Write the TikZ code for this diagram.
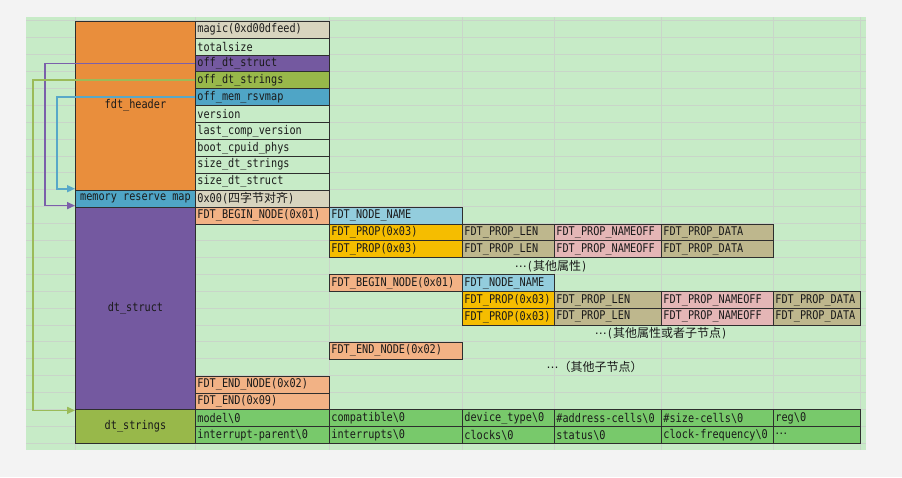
\documentclass[tikz,border=0pt]{standalone}
\usepackage{fontspec}
\setmonofont[FakeStretch=0.85]{DejaVu Sans Mono}
\newfontfamily\cjk{Noto Sans CJK SC}
\newfontfamily\dejavu{DejaVu Sans}
\usetikzlibrary{arrows.meta}
\definecolor{outer}{HTML}{F3F3F3}
\definecolor{bg}{HTML}{C7EBC7}
\definecolor{gridc}{HTML}{C9D5C9}
\definecolor{cellline}{HTML}{2E2E2E}
\definecolor{txt}{HTML}{1A1A1A}
\definecolor{corange}{HTML}{E98E3C}
\definecolor{cpurple}{HTML}{7459A0}
\definecolor{colive}{HTML}{98B84A}
\definecolor{cblue}{HTML}{4FA5C6}
\definecolor{cbeige}{HTML}{D8D4BE}
\definecolor{cpeach}{HTML}{F2B285}
\definecolor{clblue}{HTML}{93CDDD}
\definecolor{cgold}{HTML}{F5BD00}
\definecolor{ctan}{HTML}{BEB78D}
\definecolor{cpink}{HTML}{E4B6B6}
\definecolor{cgreen}{HTML}{78C96B}
\definecolor{lpurple}{HTML}{7B60AA}
\definecolor{lolive}{HTML}{9BBB59}
\definecolor{lblue}{HTML}{58A8C8}
\tikzset{
  cel/.style={draw=cellline, line width=0.9pt, rectangle, anchor=north west,
    minimum height=16.9pt, inner xsep=2pt, inner ysep=0pt, align=left,
    font=\ttfamily\fontsize{12}{14}\selectfont, text=txt},
  blk/.style={draw=cellline, line width=0.9pt, rectangle, anchor=north west,
    inner sep=0pt, align=center, font=\ttfamily\fontsize{12}{14}\selectfont, text=txt},
  note/.style={inner sep=0pt, font=\ttfamily\fontsize{12}{14}\selectfont, text=txt},
  gridl/.style={draw=gridc, line width=0.8pt},
  conn/.style={line width=1.7pt, -{Triangle[length=8pt,width=7pt]}}
}
\newcommand\cel[6]{%
  \pgfmathsetmacro\cw{#3-#2}%
  \pgfmathsetmacro\tw{#3-#2-4}%
  \pgfmathsetmacro\cy{20.7+16.9*#4}%
  \node[cel, fill=#5, minimum width=\cw pt, text width=\tw pt] (#1) at (#2pt,-\cy pt) {#6};%
}
\newcommand\blk[7]{%
  \pgfmathsetmacro\cw{#3-#2}%
  \pgfmathsetmacro\ch{16.9*#5}%
  \pgfmathsetmacro\cy{20.7+16.9*#4}%
  \node[blk, fill=#6, minimum width=\cw pt, minimum height=\ch pt] (#1) at (#2pt,-\cy pt) {#7};%
}
\newcommand\mdots{{\dejavu ⋯}}
\begin{document}
\begin{tikzpicture}
\useasboundingbox (0pt,0pt) rectangle (902pt,-477pt);
\fill[outer] (0pt,0pt) rectangle (902pt,-477pt);
\fill[bg] (26pt,-17pt) rectangle (866pt,-450pt);
\foreach \x in {75,195,329,462,554,661,773,860}
  \draw[gridl] (\x pt,-17pt) -- (\x pt,-450pt);
\foreach \i in {0,...,25}{
  \pgfmathsetmacro\yy{20.7+16.9*\i}
  \draw[gridl] (26pt,-\yy pt) -- (866pt,-\yy pt);
}
% column B blocks
\blk{header}{75}{195}{0}{10}{corange}{fdt\_header}
\blk{rsvmap}{75}{195}{10}{1}{cblue}{memory reserve map}
\blk{dtstruct}{75}{195}{11}{12}{cpurple}{dt\_struct}
\blk{dtstrings}{75}{195}{23}{2}{colive}{dt\_strings}
% column C
\cel{magic}{195}{329}{0}{cbeige}{magic(0xd00dfeed)}
\cel{totalsize}{195}{329}{1}{bg}{totalsize}
\cel{offstruct}{195}{329}{2}{cpurple}{off\_dt\_struct}
\cel{offstrings}{195}{329}{3}{colive}{off\_dt\_strings}
\cel{offmem}{195}{329}{4}{cblue}{off\_mem\_rsvmap}
\cel{version}{195}{329}{5}{bg}{version}
\cel{lastcomp}{195}{329}{6}{bg}{last\_comp\_version}
\cel{bootcpu}{195}{329}{7}{bg}{boot\_cpuid\_phys}
\cel{sizestr}{195}{329}{8}{bg}{size\_dt\_strings}
\cel{sizestruct}{195}{329}{9}{bg}{size\_dt\_struct}
\cel{rsvzero}{195}{329}{10}{cbeige}{0x00({\cjk 四字节对齐})}
\cel{beginA}{195}{329}{11}{cpeach}{FDT\_BEGIN\_NODE(0x01)}
\cel{endB}{195}{329}{21}{cpeach}{FDT\_END\_NODE(0x02)}
\cel{fdtend}{195}{329}{22}{cpeach}{FDT\_END(0x09)}
\cel{sA}{195}{329}{23}{cgreen}{model\textbackslash 0}
\cel{sB}{195}{329}{24}{cgreen}{interrupt-parent\textbackslash 0}
% column D
\cel{nameA}{329}{462}{11}{clblue}{FDT\_NODE\_NAME}
\cel{propAa}{329}{462}{12}{cgold}{FDT\_PROP(0x03)}
\cel{propAb}{329}{462}{13}{cgold}{FDT\_PROP(0x03)}
\cel{beginB}{329}{462}{15}{cpeach}{FDT\_BEGIN\_NODE(0x01)}
\cel{endA}{329}{462}{19}{cpeach}{FDT\_END\_NODE(0x02)}
\cel{sC}{329}{462}{23}{cgreen}{compatible\textbackslash 0}
\cel{sD}{329}{462}{24}{cgreen}{interrupts\textbackslash 0}
% column E
\cel{lenAa}{462}{554}{12}{ctan}{FDT\_PROP\_LEN}
\cel{lenAb}{462}{554}{13}{ctan}{FDT\_PROP\_LEN}
\cel{nameB}{462}{554}{15}{clblue}{FDT\_NODE\_NAME}
\cel{propBa}{462}{554}{16}{cgold}{FDT\_PROP(0x03)}
\cel{propBb}{462}{554}{17}{cgold}{FDT\_PROP(0x03)}
\cel{sE}{462}{554}{23}{cgreen}{device\_type\textbackslash 0}
\cel{sF}{462}{554}{24}{cgreen}{clocks\textbackslash 0}
% column F
\cel{offAa}{554}{661}{12}{cpink}{FDT\_PROP\_NAMEOFF}
\cel{offAb}{554}{661}{13}{cpink}{FDT\_PROP\_NAMEOFF}
\cel{lenBa}{554}{661}{16}{ctan}{FDT\_PROP\_LEN}
\cel{lenBb}{554}{661}{17}{ctan}{FDT\_PROP\_LEN}
\cel{sG}{554}{661}{23}{cgreen}{\#address-cells\textbackslash 0}
\cel{sH}{554}{661}{24}{cgreen}{status\textbackslash 0}
% column G
\cel{dataAa}{661}{773}{12}{ctan}{FDT\_PROP\_DATA}
\cel{dataAb}{661}{773}{13}{ctan}{FDT\_PROP\_DATA}
\cel{offBa}{661}{773}{16}{cpink}{FDT\_PROP\_NAMEOFF}
\cel{offBb}{661}{773}{17}{cpink}{FDT\_PROP\_NAMEOFF}
\cel{sI}{661}{773}{23}{cgreen}{\#size-cells\textbackslash 0}
\cel{sJ}{661}{773}{24}{cgreen}{clock-frequency\textbackslash 0}
% column H
\cel{dataBa}{773}{860}{16}{ctan}{FDT\_PROP\_DATA}
\cel{dataBb}{773}{860}{17}{ctan}{FDT\_PROP\_DATA}
\cel{sK}{773}{860}{23}{cgreen}{reg\textbackslash 0}
\cel{sL}{773}{860}{24}{cgreen}{\mdots}
% notes
\node[note] (moreA) at (551pt,-265.75pt) {\mdots({\cjk 其他属性})};
\node[note] (moreB) at (661pt,-333.35pt) {\mdots({\cjk 其他属性或者子节点})};
\node[note] (moreC) at (594.5pt,-367.15pt) {\mdots{\cjk （其他子节点）}};
% connectors
\coordinate (vs) at (45pt,0pt);
\coordinate (vg) at (33pt,0pt);
\coordinate (vb) at (57pt,0pt);
\draw[conn, draw=lpurple] (offstruct.west) -- (offstruct.west -| vs) |- ([yshift=1pt]dtstruct.north west);
\draw[conn, draw=lolive] (offstrings.west) -- (offstrings.west -| vg) |- ([yshift=-1pt]dtstrings.north west);
\draw[conn, draw=lblue] (offmem.west) -- (offmem.west -| vb) |- ([yshift=1pt]rsvmap.north west);
\end{tikzpicture}
\end{document}
